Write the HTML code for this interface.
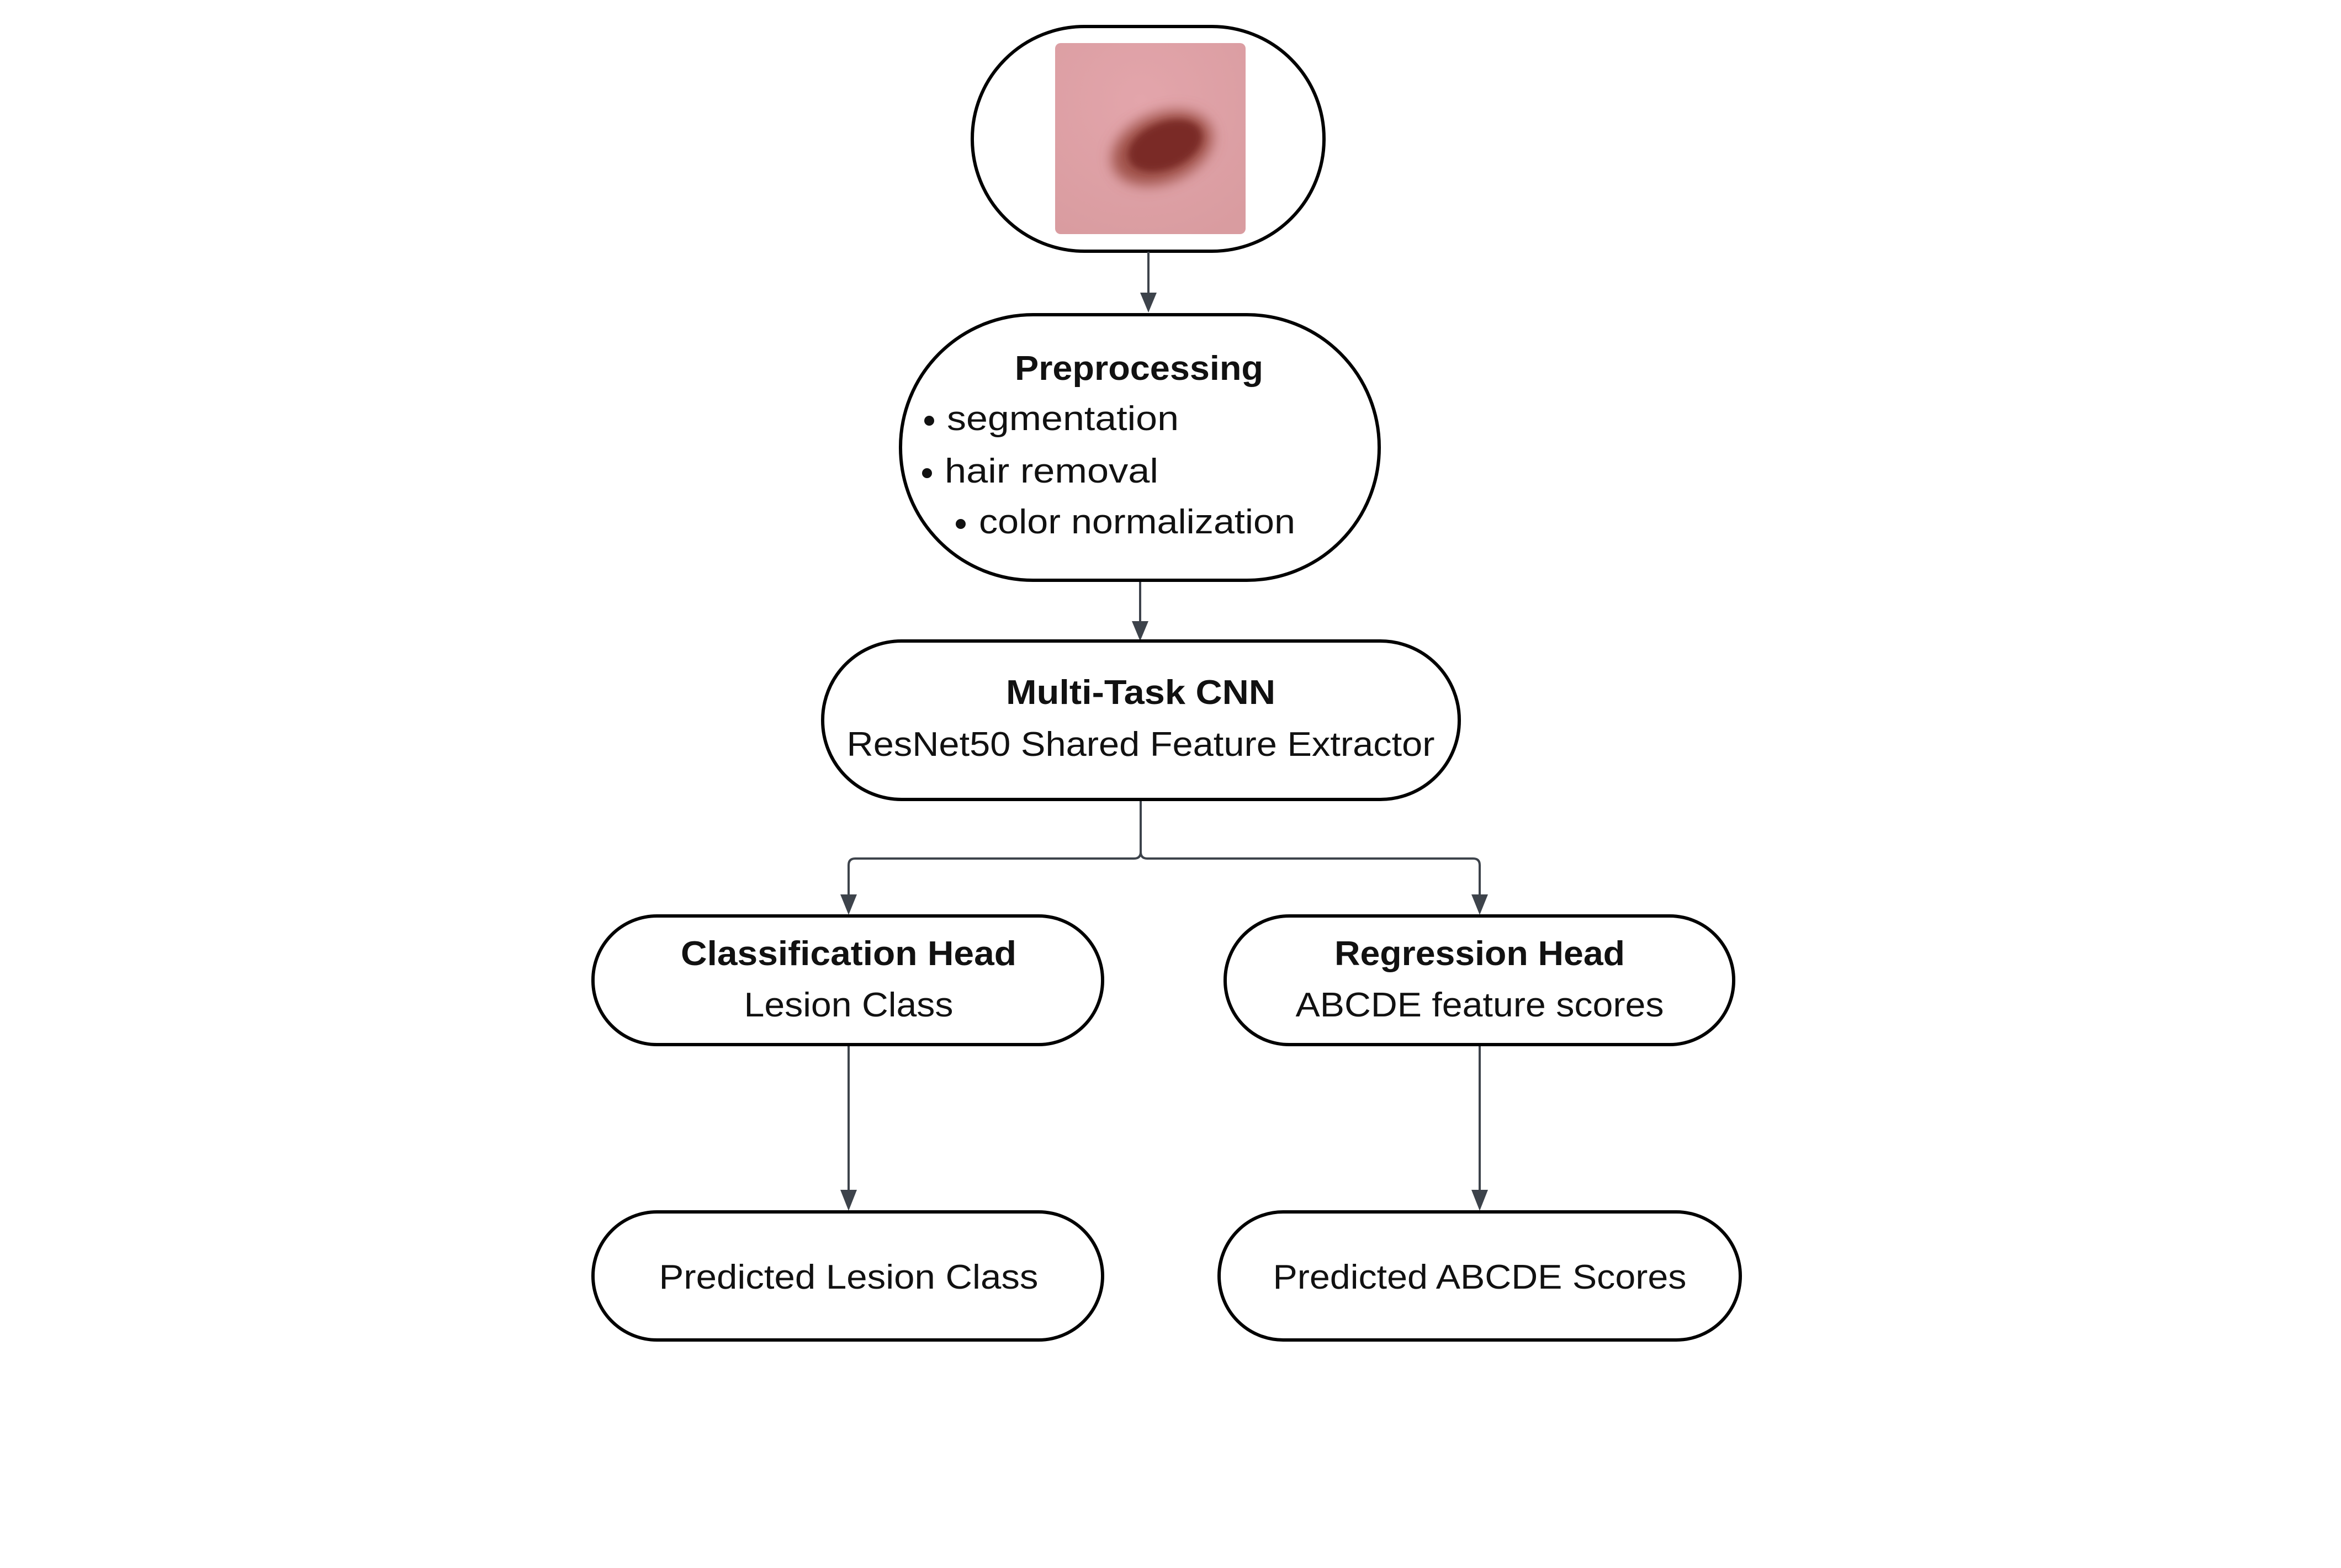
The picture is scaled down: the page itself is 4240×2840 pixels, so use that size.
<!DOCTYPE html>
<html><head><meta charset="utf-8">
<style>
html,body{margin:0;padding:0;background:#fff;}
svg{display:block;}
text{font-family:"Liberation Sans",sans-serif;fill:#111;}
</style></head>
<body>
<svg width="4240" height="2840" viewBox="0 0 4240 2840" xmlns="http://www.w3.org/2000/svg">
<defs>
<filter id="blur" x="-50%" y="-50%" width="200%" height="200%"><feGaussianBlur stdDeviation="12"/></filter>
<filter id="blur2" x="-50%" y="-50%" width="200%" height="200%"><feGaussianBlur stdDeviation="6"/></filter>
<radialGradient id="skin" cx="0.45" cy="0.3" r="0.8">
<stop offset="0" stop-color="#e3a5ab"/><stop offset="1" stop-color="#d99ca0"/>
</radialGradient>
<clipPath id="imgclip"><rect x="1911" y="78" width="345" height="346" rx="10"/></clipPath>
</defs>
<rect width="4240" height="2840" fill="#fff"/>

<rect x="1761" y="48" width="637" height="407" rx="203" fill="#fff" stroke="#000" stroke-width="6"/>
<g clip-path="url(#imgclip)">
<rect x="1911" y="78" width="345" height="346" fill="url(#skin)"/>
<ellipse cx="2105" cy="268" rx="95" ry="62" transform="rotate(-22 2105 268)" fill="#a0524c" filter="url(#blur)"/>
<ellipse cx="2110" cy="264" rx="70" ry="42" transform="rotate(-22 2110 264)" fill="#7a2c27" filter="url(#blur2)"/>
</g>

<g stroke="#3d434b" stroke-width="4" fill="none">
<line x1="2080" y1="456" x2="2080" y2="530"/>
<line x1="2065" y1="1051" x2="2065" y2="1125"/>
<path d="M2066 1448 V1543 Q2066 1555 2054 1555 H1549 Q1537 1555 1537 1567 V1620"/>
<path d="M2066 1543 Q2066 1555 2078 1555 H2668 Q2680 1555 2680 1567 V1620"/>
<line x1="1537" y1="1892" x2="1537" y2="2155"/>
<line x1="2680" y1="1892" x2="2680" y2="2155"/>
</g>
<g fill="#3d434b">
<polygon points="2065,530 2095,530 2080,566"/>
<polygon points="2050,1125 2080,1125 2065,1161"/>
<polygon points="1522,1620 1552,1620 1537,1657"/>
<polygon points="2665,1620 2695,1620 2680,1657"/>
<polygon points="1522,2155 1552,2155 1537,2193"/>
<polygon points="2665,2155 2695,2155 2680,2193"/>
</g>

<rect x="1631" y="570" width="867" height="481" rx="240" fill="#fff" stroke="#000" stroke-width="6"/>
<text x="2063" y="688" font-size="62" font-weight="bold" text-anchor="middle" textLength="450" lengthAdjust="spacingAndGlyphs">Preprocessing</text>
<circle cx="1683" cy="762" r="9" fill="#111"/>
<text x="1715" y="779" font-size="62" textLength="420" lengthAdjust="spacingAndGlyphs">segmentation</text>
<circle cx="1679" cy="857" r="9" fill="#111"/>
<text x="1711" y="874" font-size="62" textLength="387" lengthAdjust="spacingAndGlyphs">hair removal</text>
<circle cx="1740" cy="949" r="9" fill="#111"/>
<text x="1773" y="966" font-size="62" textLength="573" lengthAdjust="spacingAndGlyphs">color normalization</text>

<rect x="1490" y="1161" width="1153" height="287" rx="143" fill="#fff" stroke="#000" stroke-width="6"/>
<text x="2066" y="1275" font-size="62" font-weight="bold" text-anchor="middle" textLength="488" lengthAdjust="spacingAndGlyphs">Multi-Task CNN</text>
<text x="2066" y="1369" font-size="62" text-anchor="middle" textLength="1065" lengthAdjust="spacingAndGlyphs">ResNet50 Shared Feature Extractor</text>

<rect x="1074" y="1659" width="923" height="233" rx="116" fill="#fff" stroke="#000" stroke-width="6"/>
<text x="1537" y="1748" font-size="62" font-weight="bold" text-anchor="middle" textLength="608" lengthAdjust="spacingAndGlyphs">Classification Head</text>
<text x="1537" y="1841" font-size="62" text-anchor="middle" textLength="379" lengthAdjust="spacingAndGlyphs">Lesion Class</text>

<rect x="2219" y="1659" width="921" height="233" rx="116" fill="#fff" stroke="#000" stroke-width="6"/>
<text x="2680" y="1748" font-size="62" font-weight="bold" text-anchor="middle" textLength="526" lengthAdjust="spacingAndGlyphs">Regression Head</text>
<text x="2680" y="1841" font-size="62" text-anchor="middle" textLength="667" lengthAdjust="spacingAndGlyphs">ABCDE feature scores</text>

<rect x="1074" y="2195" width="923" height="232" rx="116" fill="#fff" stroke="#000" stroke-width="6"/>
<text x="1537" y="2334" font-size="62" text-anchor="middle" textLength="687" lengthAdjust="spacingAndGlyphs">Predicted Lesion Class</text>

<rect x="2208" y="2195" width="944" height="232" rx="116" fill="#fff" stroke="#000" stroke-width="6"/>
<text x="2680" y="2334" font-size="62" text-anchor="middle" textLength="749" lengthAdjust="spacingAndGlyphs">Predicted ABCDE Scores</text>
</svg>
</body></html>
